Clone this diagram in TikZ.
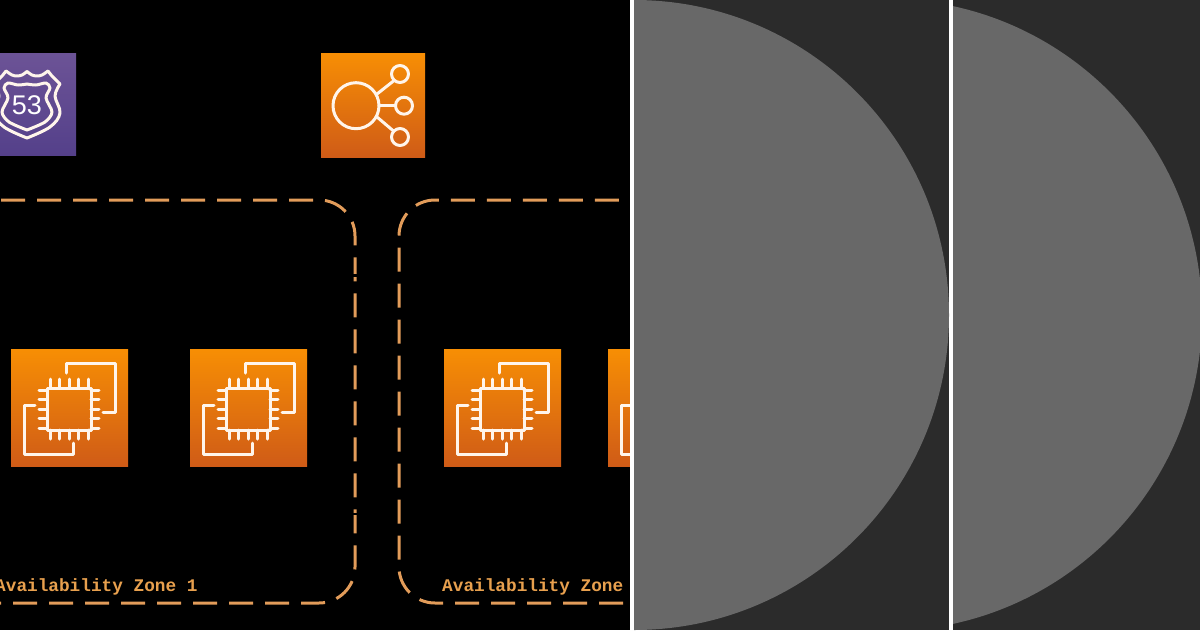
\documentclass[tikz,border=0pt]{standalone}
\usepackage{fontspec}
\setsansfont{Liberation Sans}
\setmonofont{Liberation Mono}
\definecolor{azline}{HTML}{E29C5A}
\definecolor{aztext}{HTML}{E8A04E}
\definecolor{orangetop}{HTML}{F78E04}
\definecolor{orangebot}{HTML}{CF5B17}
\definecolor{purpletop}{HTML}{6C5396}
\definecolor{purplebot}{HTML}{54408A}
\definecolor{paneldark}{HTML}{2B2B2B}
\definecolor{panelgray}{HTML}{686868}
\begin{document}
\begin{tikzpicture}[x=1pt,y=-1pt,line join=round,line cap=round]
	\tikzset{orangebox/.style={top color=orangetop,bottom color=orangebot,minimum size=#1,inner sep=0pt,outer sep=0pt}}
	\tikzset{purplebox/.style={top color=purpletop,bottom color=purplebot,minimum size=#1,inner sep=0pt,outer sep=0pt}}
	\tikzset{iconline/.style={draw=white!92!orange,line width=3pt}}
	\tikzset{azbox/.style={draw=azline,line width=3pt,line cap=butt,dash pattern=on 24pt off 12pt,rounded corners=36pt}}
	\tikzset{azlabel/.style={anchor=base west,inner sep=0pt,text=aztext,font=\ttfamily\bfseries\fontsize{17.75pt}{20pt}\selectfont}}
	\useasboundingbox (0,0) rectangle (1200,630);
	\clip (0,0) rectangle (1200,630);
	\fill[black] (0,0) rectangle (630,630);
	% route 53
	\node[purplebox=102pt] (routebox) at (25,104.5) {};
	\foreach \s in {1,-1}{
		\begin{scope}[shift={(27,0)},xscale=\s]
			\draw[iconline] plot[smooth,tension=0.5] coordinates {(0,71.5) (5,75) (10,76) (15,75) (21,71)};
			\draw[iconline] plot[smooth,tension=0.5] coordinates {(21,71) (25,76) (33,84)};
			\draw[iconline] plot[smooth,tension=0.6] coordinates {(33,84) (28,96) (33,113) (23,127) (0,138)};
			\draw[iconline] plot[smooth,tension=0.5] coordinates {(0,84) (9,85) (19,83) (23,88) (19,98) (25,112) (18,122) (0,130)};
		\end{scope}
	}
	\node[text=white,inner sep=0pt,font=\sffamily\fontsize{27pt}{30pt}\selectfont] (routetext) at (27,105) {53};
	% load balancer
	\node[orangebox=104pt] (lbbox) at (373,105.5) {};
	\draw[iconline] (356,105.7) circle (23pt);
	\draw[iconline] (400,74) circle (8.5pt);
	\draw[iconline] (404,105.7) circle (8.5pt);
	\draw[iconline] (400,137) circle (8.5pt);
	\draw[iconline] (377,94) -- (393.5,81);
	\draw[iconline] (379,105.7) -- (395.5,105.7);
	\draw[iconline] (377,117) -- (393.5,131);
	% availability zones
	\draw[azbox] (-35,200) -- (355,200) -- (355,603) -- (-35,603);
	\draw[azbox] (659,603) -- (399,603) -- (399,200) -- (659,200);
	\draw[black,line width=3pt,line cap=butt] (352,275.5) -- (358,275.5);
	\draw[black,line width=2pt,line cap=butt] (352,514) -- (358,514);
	\node[azlabel] (azonea) at (-5,591) {Availability Zone 1};
	\node[azlabel] (azoneb) at (442,591) {Availability Zone 2};
	% ec2
	\foreach \cx/\nm in {69/ecua,248/ecub,502/ecuc,666/ecud}{
		\begin{scope}[shift={(\cx,409)}]
			\node[orangebox=117pt] (\nm) at (0.5,-0.75) {};
			\draw[iconline] (-3,-36) -- (-3,-46) -- (46,-46) -- (46,3) -- (34,3);
			\draw[iconline] (-34,-4) -- (-45,-4) -- (-45,45) -- (4,45) -- (4,34);
			\draw[iconline] (-22,-21) rectangle (22,21);
			\foreach \p in {-19,-9.5,0,9.5,19}{
				\draw[iconline] (\p,-21) -- (\p,-30);
				\draw[iconline] (\p,21) -- (\p,30);
				\draw[iconline] (-22,\p) -- (-30,\p);
				\draw[iconline] (22,\p) -- (30,\p);
			}
		\end{scope}
	}
	% panels
	\fill[white] (630,0) rectangle (1200,630);
	\fill[paneldark] (634,0) rectangle (949,630);
	\fill[paneldark] (953,0) rectangle (1200,630);
	\begin{scope}
		\clip (634,0) rectangle (949,630);
		\fill[panelgray] (634,315) circle (315pt);
	\end{scope}
	\begin{scope}
		\clip (953,0) rectangle (1200,630);
		\fill[panelgray] (886,315) circle (316pt);
	\end{scope}
\end{tikzpicture}
\end{document}
